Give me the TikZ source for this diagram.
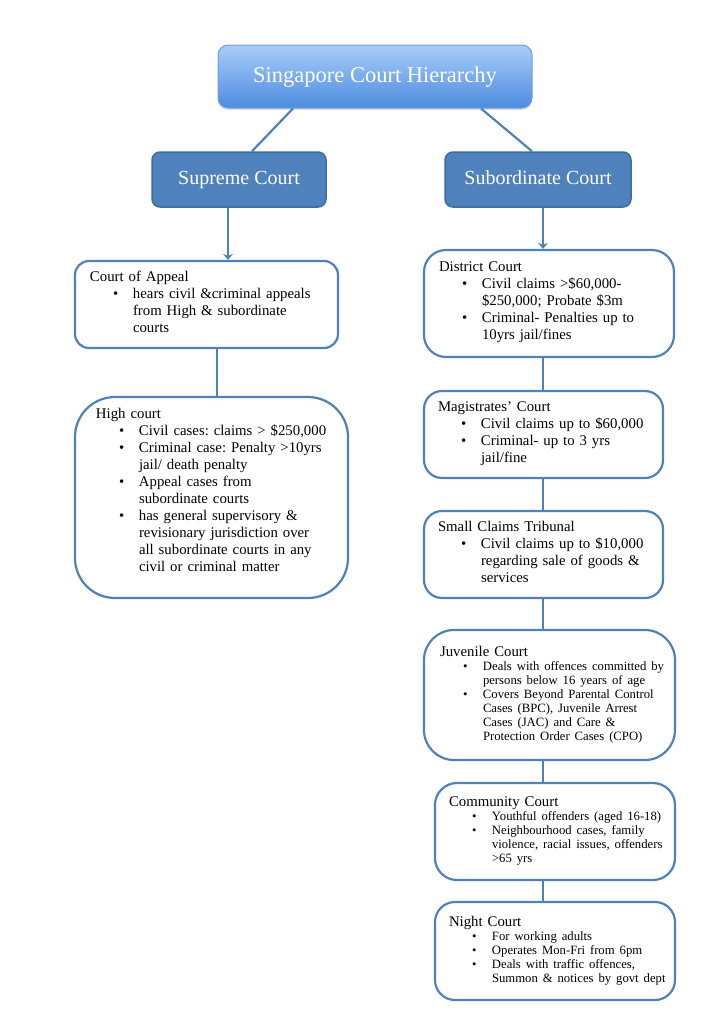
\documentclass[tikz,border=0pt]{standalone}
\usepackage{fontspec}
\setmainfont{Liberation Serif}
\usetikzlibrary{arrows.meta,shadows}

\definecolor{courtblue}{HTML}{4F81BD}
\definecolor{courtdark}{HTML}{3D6CA3}
\definecolor{titletop}{HTML}{A8CCF9}
\definecolor{titlebot}{HTML}{4D8CE0}
\definecolor{titleline}{HTML}{6E9FE2}

\newcommand{\bitem}[1]{\par\noindent\hbox to 43bp{\hskip 23bp\textbullet\hfill}%
  \parbox[t]{\dimexpr\hsize-43bp-\leftskip\relax}{\raggedright\strut #1\strut}}
\newcommand{\itemfont}{\fontsize{12.7bp}{14bp}\selectfont}
\newcommand{\pad}[1]{\leftskip=#1\relax\lineskip=0pt\relax}

\tikzset{
  headbox/.style={draw=courtdark, line width=1.5bp, fill=courtblue, text=white,
    rounded corners=8bp, text height=14bp, text depth=4bp,
    font=\fontsize{20bp}{24bp}\selectfont},
  courtbox/.style={draw=courtblue, line width=2.2bp, fill=white, align=left,
    inner xsep=0bp, font=\fontsize{14.8bp}{17bp}\selectfont\frenchspacing},
  link/.style={draw=courtblue, line width=2.2bp},
  down/.style={link, -{Stealth[length=6bp,width=10bp,inset=2bp]}}
}

\begin{document}
\begin{tikzpicture}[x=1bp, y=-1bp]
  \useasboundingbox (0,0) rectangle (719,1017);

  \node[draw=titleline, line width=1bp, top color=titletop, bottom color=titlebot,
    rounded corners=10bp, text=white, minimum width=314bp, minimum height=63bp,
    text height=16bp, text depth=5bp, font=\fontsize{22.5bp}{26bp}\selectfont,
    drop shadow={opacity=0.25, shadow xshift=0bp, shadow yshift=-2bp}]
    (title) at (375,76.5) {Singapore Court Hierarchy};

  \node[headbox, minimum width=174bp, minimum height=55bp] (supreme) at (239,179.5) {Supreme Court};
  \node[headbox, minimum width=186bp, minimum height=55bp] (subord) at (538,179.5) {Subordinate Court};

  % supreme court side
  \node[courtbox, rounded corners=14bp, minimum width=263bp, minimum height=87bp, text width=259bp]
    (coa) at (206.5,304.5) {\pad{13bp}Court of Appeal
      \bitem{hears civil \&criminal appeals\\from High \& subordinate\\courts}\par};
  \node[courtbox, rounded corners=40bp, minimum width=273bp, minimum height=201bp, text width=269bp]
    (high) at (211.5,497.5) {\pad{19bp}High court
      \bitem{Civil cases: claims > \$250,000}
      \bitem{Criminal case: Penalty >10yrs\\jail/ death penalty}
      \bitem{Appeal cases from\\subordinate courts}
      \bitem{has general supervisory \&\\revisionary jurisdiction over\\all subordinate courts in any\\civil or criminal matter}\par
      \nointerlineskip\vbox to 11bp{}};

  % subordinate court side
  \node[courtbox, rounded corners=22bp, minimum width=250bp, minimum height=107bp, text width=246bp]
    (district) at (549,303.5) {\pad{13bp}District Court
      \bitem{Civil claims >\$60,000-\\\$250,000; Probate \$3m}
      \bitem{Criminal- Penalties up to\\10yrs jail/fines}\par};
  \node[courtbox, rounded corners=18bp, minimum width=239bp, minimum height=87bp, text width=235bp]
    (magis) at (543.5,434.5) {\pad{12bp}Magistrates’ Court
      \bitem{Civil claims up to \$60,000}
      \bitem{Criminal- up to 3 yrs\\jail/fine}\par};
  \node[courtbox, rounded corners=18bp, minimum width=239bp, minimum height=87bp, text width=235bp]
    (small) at (543.5,554.5) {\pad{12bp}Small Claims Tribunal
      \bitem{Civil claims up to \$10,000\\regarding sale of goods \&\\services}\par};
  \node[courtbox, rounded corners=30bp, minimum width=251bp, minimum height=130bp, text width=247bp]
    (juvenile) at (549.5,695) {\pad{14bp}Juvenile Court\par{\itemfont
      \bitem{Deals with offences committed by\\persons below 16 years of age}
      \bitem{Covers Beyond Parental Control\\Cases (BPC), Juvenile Arrest\\Cases (JAC) and Care \&\\Protection Order Cases (CPO)}\par}};
  \node[courtbox, rounded corners=22bp, minimum width=240bp, minimum height=97bp, text width=236bp]
    (community) at (555,831.5) {\pad{12bp}Community Court\par{\itemfont
      \bitem{Youthful offenders (aged 16-18)}
      \bitem{Neighbourhood cases, family\\violence, racial issues, offenders\\>65 yrs}\par}};
  \node[courtbox, rounded corners=20bp, minimum width=240bp, minimum height=98bp, text width=236bp]
    (night) at (555,951) {\pad{12bp}Night Court\par{\itemfont
      \bitem{For working adults}
      \bitem{Operates Mon-Fri from 6pm}
      \bitem{Deals with traffic offences,\\Summon \& notices by govt dept}\par}};

  % connectors
  \coordinate (supArrow) at ([xshift=-11bp]supreme.south);
  \coordinate (subArrow) at ([xshift=5bp]subord.south);
  \coordinate (leftSpine) at (217,0);
  \coordinate (rightSpine) at (543,0);

  \draw[link] ([xshift=-82bp]title.south) -- ([xshift=13bp]supreme.north);
  \draw[link] ([xshift=106bp]title.south) -- ([xshift=-6bp]subord.north);
  \draw[down] (supArrow) -- (supArrow |- coa.north);
  \draw[down] (subArrow) -- (subArrow |- district.north);

  \draw[link] (coa.south -| leftSpine) -- (high.north -| leftSpine);
  \draw[link] (district.south -| rightSpine) -- (magis.north -| rightSpine);
  \draw[link] (magis.south -| rightSpine) -- (small.north -| rightSpine);
  \draw[link] (small.south -| rightSpine) -- (juvenile.north -| rightSpine);
  \draw[link] (juvenile.south -| rightSpine) -- (community.north -| rightSpine);
  \draw[link] (community.south -| rightSpine) -- (night.north -| rightSpine);
\end{tikzpicture}
\end{document}
